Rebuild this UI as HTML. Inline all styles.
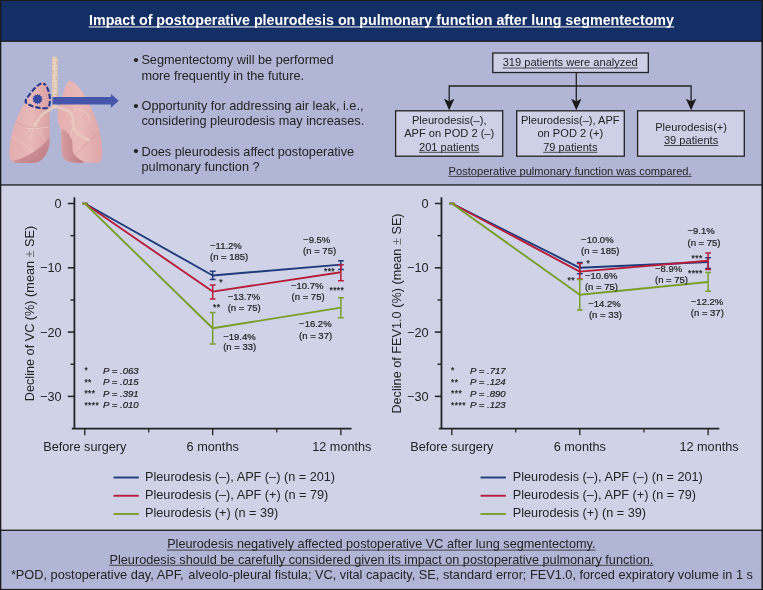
<!DOCTYPE html>
<html><head><meta charset="utf-8"><title>Impact of postoperative pleurodesis</title>
<style>
html,body{margin:0;padding:0;background:#1a1a1a}
svg{display:block}
.u{text-decoration:underline;text-decoration-skip-ink:none;text-decoration-thickness:0.9px;text-underline-offset:1.1px}
text{font-family:"Liberation Sans",Arial,Helvetica,sans-serif;fill:#242424}
</style></head><body>
<svg width="763" height="590" viewBox="0 0 763 590">
<rect width="763" height="590" fill="#1a1a1a"/>
<rect x="1.3" y="1" width="760.1" height="39.6" fill="#142e66"/>
<rect x="1.3" y="41.9" width="760.1" height="142.4" fill="#b1b5d6"/>
<rect x="1.3" y="185.6" width="760.1" height="344" fill="#d0d3e8"/>
<rect x="1.3" y="530.9" width="760.1" height="58" fill="#b1b5d6"/>
<text x="381.5" y="25.4" text-anchor="middle" font-size="14.28" font-weight="bold" style="fill:#fff">Impact of postoperative pleurodesis on pulmonary function after lung segmentectomy</text><path d="M88.72 26.95H674.28" stroke="#fff" stroke-width="1.0"/>
<g font-size="12.72">
<text x="133.15" y="64.75" font-size="15.5">•</text><text x="141.4" y="64.3">Segmentectomy will be performed</text>
<text x="141.4" y="79.8">more frequently in the future.</text>
<text x="133.15" y="110.55" font-size="15.5">•</text><text x="141.5" y="109.9">Opportunity for addressing air leak, i.e.,</text>
<text x="141.5" y="125">considering pleurodesis may increases.</text>
<text x="133.15" y="156.05" font-size="15.5">•</text><text x="141.5" y="155.5">Does pleurodesis affect postoperative</text>
<text x="141.5" y="170.8">pulmonary function ?</text>
</g>
<!-- lungs illustration -->
<defs>
<linearGradient id="lgL" x1="0" y1="0" x2="1" y2="0"><stop offset="0" stop-color="#e2adae"/><stop offset="0.55" stop-color="#e9b8b8"/><stop offset="1" stop-color="#d9a0a3"/></linearGradient>
<linearGradient id="lgR" x1="0" y1="0" x2="1" y2="0"><stop offset="0" stop-color="#e4aeaf"/><stop offset="0.5" stop-color="#eab9b9"/><stop offset="1" stop-color="#dea5a7"/></linearGradient>
<linearGradient id="lgT" x1="0" y1="0" x2="1" y2="0"><stop offset="0" stop-color="#d8bba5"/><stop offset="0.5" stop-color="#e6d0bd"/><stop offset="1" stop-color="#d0b19b"/></linearGradient>
<linearGradient id="shL" x1="0" y1="0" x2="1" y2="1"><stop offset="0" stop-color="#d69c9f"/><stop offset="1" stop-color="#b9777f"/></linearGradient>
<linearGradient id="shR" x1="0" y1="0" x2="1" y2="0"><stop offset="0" stop-color="#d49a9d"/><stop offset="1" stop-color="#b5737b"/></linearGradient>
<filter id="soft" x="-5%" y="-5%" width="110%" height="110%"><feGaussianBlur stdDeviation="0.45"/></filter>
</defs>
<g filter="url(#soft)">
<!-- trachea -->
<rect x="51.9" y="56.6" width="6" height="52" fill="url(#lgT)"/>
<path d="M52 60H58M52 63H58M52 66H58M52 69H58M52 72H58M52 75H58M52 78H58M52 81H58M52 84H58M52 87H58M52 90H58M52 93H58" stroke="#f4e8db" stroke-width="0.9" opacity="0.75"/>
<path d="M53.2 70.5v2.5M56.3 77v3M54 86.5v2.5M56.5 62v2M53.5 97v3M56 93v2" stroke="#c9a58d" stroke-width="1.1" opacity="0.6"/>
<!-- left lung -->
<path d="M43.1 81.8C39.5 83 35 88 30 94.5C25 101 19 112 15.3 122.5C12 132 9.8 142 9.4 150C9.2 155 9.6 159.5 11.5 161.5C13.5 163.3 19 163.2 24 163.1C29 163 33 163.3 36 162.6C40 161.6 43.5 158.5 46 154.5C48.5 150.5 49.6 145 49.7 139C50 132 50 122 49.6 114C49.6 108 50.6 100 50.2 95C49.8 89 47 83 43.1 81.8Z" fill="url(#lgL)"/>
<!-- right lung -->
<path d="M68.6 81.4C66 83 64.6 88 63.3 93C61.5 100 58.8 106 58 111C57.2 116 57.4 120.5 58.5 124C60.5 129 61.4 133 61.4 138C61.4 144 61 150 62.3 154.5C63.3 158.5 65 160.5 68 161.5C73 163 80 163.3 87 162.6C92 162.2 97 163.8 99.5 162.5C102 161 102.4 155 102.2 150C102 143 100.6 133 98 125C95.5 117 92 109 88 101C84 93 77 84.5 73 82C71.3 81 69.6 80.8 68.6 81.4Z" fill="url(#lgR)"/>
<!-- shading -->
<path d="M12.5 161.2C20 159.2 28 155.5 33.2 152.2C40 148 46 142.5 49.6 137.5C49.8 143 49 149 46 154.5C43.5 158.5 40 161.6 36 162.6C33 163.3 29 163 24 163.1C19 163.2 15 163 12.5 161.2Z" fill="url(#shL)" opacity="0.9"/>
<path d="M61.3 128.5C65 130.5 69 133 71 137.5C73 142 72 148 73 152C74 156 79 159 85 162.6C78 163.3 71 162.8 67 161C63 159 62 155 61.6 150C61.2 144 61.6 136 61.3 128.5Z" fill="url(#shR)" opacity="0.9"/>
<!-- bronchi -->
<g fill="none" stroke="#e8cdc1" stroke-linecap="round" opacity="0.85">
<path d="M55 105C54 108 49 110 44.5 112.7C41 115 37.5 120.5 34.5 126" stroke-width="2.8"/>
<path d="M55 105C57 107.5 61 108.6 67 110.4C71 111.8 72.3 114.5 72.7 118.5C73.1 123 73 127.5 75 130.5C77.5 134 84 138 89 140.3" stroke-width="2.8"/>
<path d="M72.3 113.5C74 110.5 77 109 80 109.5C85 110.5 88.5 115.5 90.3 120.5" stroke-width="1.3" opacity="0.8"/>
<path d="M73.5 126C72 130 70.5 134 70.5 138" stroke-width="1.2" opacity="0.7"/>
<path d="M34.5 126C31 129 27 132.5 23.7 135.6M34.5 126C33 130.5 31 135 29.7 139.1M35 125.5C37.5 129 39 132.5 40.3 135.6M36 124C40 128 42.5 134 43.9 139.1" stroke-width="0.9" opacity="0.75"/>
</g>
<!-- fissures -->
<g fill="none" stroke-width="0.8">
<path d="M14.8 121.9C20 123.5 26 127.5 32 127.8C38 128 44 126.5 49.4 124.2" stroke="#d29a9c" opacity="0.7"/>
<path d="M27 128.6C34 128.8 42 128 48.8 127" stroke="#f5dad6" opacity="0.6"/>
<path d="M11.3 135.5C18 140 26 146 33.2 152.2" stroke="#f3d3d0" opacity="0.55"/>
<path d="M99.8 130.8C96 135 92 139 89.1 141.5C85 145.5 80 150.5 75.5 154.6" stroke="#cf9497" opacity="0.75"/>
</g>
</g>
<!-- arrow -->
<path d="M52.5 97.1H110.9V94L118.7 100.8L110.9 107.8V104.6H52.5Z" fill="#4555a9"/>
<!-- dashed segment + tumour -->
<g transform="translate(0 1.1)"><path d="M43.2 82.3C47 83.5 50 92 49.9 99C49.9 103 49.5 106 47 106.8C42 108.2 31 105.5 26.5 102C24.5 100.5 26 98 28 95.5C32 90 39 81.5 43.2 82.3Z" fill="none" stroke="#27398a" stroke-width="2.1" stroke-dasharray="5.3 1.9" stroke-dashoffset="2" stroke-linecap="butt"/>
<path transform="translate(0 -1)" d="M37.5 93.6l1 1.6 1.7-.9 .1 1.9 1.9.1-.9 1.7 1.6 1-1.6 1 .9 1.700-1.900.1-.1 1.900-1.700-.9-1 1.600-1-1.600-1.700.9-.1-1.900-1.900-.1.900-1.700-1.600-1 1.600-1-.9-1.700 1.900-.1.100-1.900 1.700.9z" fill="#3749a0"/></g>

<!-- flow -->
<g fill="#cdd0e6" stroke="#222" stroke-width="1.3">
<rect x="492.8" y="53" width="155.5" height="19.5"/>
<rect x="395.6" y="110.8" width="107.1" height="45.4"/>
<rect x="516.7" y="110.8" width="107.6" height="45.4"/>
<rect x="637.6" y="110.8" width="106.7" height="45.4"/>
<path d="M576.3 72.5V101M449.2 101V86H691.1V101" fill="none"/>
</g>
<g fill="#1a1a1a">
<path d="M449.2 110.2l-5.2-11.5 5.2 2.6 5.2-2.6z"/><path d="M576.3 110.2l-5.2-11.5 5.2 2.6 5.2-2.6z"/><path d="M691.1 110.2l-5.2-11.5 5.2 2.6 5.2-2.6z"/>
</g>
<g font-size="11.1" text-anchor="middle">
<text x="570.2" y="66.3" text-anchor="middle" font-size="11.1" >319 patients were analyzed</text><path d="M502.63 68.00H637.77" stroke="#242424" stroke-width="0.8"/>
<text x="449.2" y="123.6">Pleurodesis(–),</text>
<text x="449.2" y="137.1">APF on POD 2 (–)</text>
<text x="449.2" y="150.6" text-anchor="middle" font-size="11.1" >201 patients</text><path d="M418.96 152.30H479.44" stroke="#242424" stroke-width="0.8"/>
<text x="570.3" y="123.6">Pleurodesis(–), APF</text>
<text x="570.3" y="137.1">on POD 2 (+)</text>
<text x="570.3" y="150.6" text-anchor="middle" font-size="11.1" >79 patients</text><path d="M543.15 152.30H597.45" stroke="#242424" stroke-width="0.8"/>
<text x="691.1" y="130.5">Pleurodesis(+)</text>
<text x="691.1" y="143.8" text-anchor="middle" font-size="11.1" >39 patients</text><path d="M663.95 145.50H718.25" stroke="#242424" stroke-width="0.8"/>
<text x="570.1" y="174.7" text-anchor="middle" font-size="11.1" >Postoperative pulmonary function was compared.</text><path d="M448.55 176.40H691.65" stroke="#242424" stroke-width="0.8"/>
</g>
<path d="M74.4 197.3V428.7" fill="none" stroke="#222" stroke-width="1.8"/>
<path d="M71.80000000000001 428.7H351.5" fill="none" stroke="#222" stroke-width="1.7"/>
<path d="M67.80000000000001 203.5H74.4" stroke="#222" stroke-width="1.5"/>
<text x="61.60000000000001" y="208.00" text-anchor="end" font-size="12.7">0</text>
<path d="M67.80000000000001 267.8H74.4" stroke="#222" stroke-width="1.5"/>
<text x="61.60000000000001" y="272.30" text-anchor="end" font-size="12.7">−10</text>
<path d="M67.80000000000001 332.1H74.4" stroke="#222" stroke-width="1.5"/>
<text x="61.60000000000001" y="336.60" text-anchor="end" font-size="12.7">−20</text>
<path d="M67.80000000000001 396.4H74.4" stroke="#222" stroke-width="1.5"/>
<text x="61.60000000000001" y="400.90" text-anchor="end" font-size="12.7">−30</text>
<path d="M70.5 235.65H74.4" stroke="#222" stroke-width="1.4"/>
<path d="M70.5 299.95H74.4" stroke="#222" stroke-width="1.4"/>
<path d="M70.5 364.25H74.4" stroke="#222" stroke-width="1.4"/>
<path d="M84.80 428.7V435.3" stroke="#222" stroke-width="1.3"/>
<path d="M212.70 428.7V435.3" stroke="#222" stroke-width="1.3"/>
<path d="M340.90 428.7V435.3" stroke="#222" stroke-width="1.3"/>
<path d="M148.75 428.7V432.59999999999997" stroke="#222" stroke-width="1.2"/>
<path d="M276.80 428.7V432.59999999999997" stroke="#222" stroke-width="1.2"/>
<text x="84.80" y="451" text-anchor="middle" font-size="12.7">Before surgery</text>
<text x="212.70" y="451" text-anchor="middle" font-size="12.7">6 months</text>
<text x="341.80" y="451" text-anchor="middle" font-size="12.7">12 months</text>
<text transform="translate(34.30 313.5) rotate(-90)" text-anchor="middle" font-size="12.7">Decline of VC (%) (mean <tspan style="fill:#6d6d75">±</tspan> SE)</text>
<path d="M84.80 203.5L212.70 275.52L340.90 264.58" fill="none" stroke="#1f3b7a" stroke-width="1.9" stroke-linejoin="round"/>
<path d="M82.00 203.5H87.60" stroke="#1f3b7a" stroke-width="1.5"/>
<path d="M209.80 271.3H215.60M212.70 271.3V279.5M209.80 279.5H215.60" fill="none" stroke="#1f3b7a" stroke-width="1.5"/>
<path d="M338.00 260.7H343.80M340.90 260.7V269.6M338.00 269.6H343.80" fill="none" stroke="#1f3b7a" stroke-width="1.5"/>
<path d="M84.80 203.5L212.70 291.59L340.90 272.30" fill="none" stroke="#b41e3a" stroke-width="1.9" stroke-linejoin="round"/>
<path d="M82.00 203.5H87.60" stroke="#b41e3a" stroke-width="1.5"/>
<path d="M209.80 285H215.60M212.70 285V299.1M209.80 299.1H215.60" fill="none" stroke="#b41e3a" stroke-width="1.5"/>
<path d="M338.00 264.7H343.80M340.90 264.7V280.7M338.00 280.7H343.80" fill="none" stroke="#b41e3a" stroke-width="1.5"/>
<path d="M84.80 203.5L212.70 328.24L340.90 307.67" fill="none" stroke="#7a9e2c" stroke-width="1.9" stroke-linejoin="round"/>
<path d="M82.00 203.5H87.60" stroke="#7a9e2c" stroke-width="1.5"/>
<path d="M209.80 312.6H215.60M212.70 312.6V343.9M209.80 343.9H215.60" fill="none" stroke="#7a9e2c" stroke-width="1.5"/>
<path d="M338.00 297.7H343.80M340.90 297.7V317.8M338.00 317.8H343.80" fill="none" stroke="#7a9e2c" stroke-width="1.5"/>
<g style="stroke:#242424;stroke-width:0.22">
<text x="210" y="248.9" text-anchor="start" font-size="9.5">−11.2%</text>
<text x="210" y="260" text-anchor="start" font-size="9.5">(n = 185)</text>
<text x="227.7" y="300.3" text-anchor="start" font-size="9.5">−13.7%</text>
<text x="227.7" y="311.4" text-anchor="start" font-size="9.5">(n = 75)</text>
<text x="223.2" y="339.7" text-anchor="start" font-size="9.5">−19.4%</text>
<text x="223.2" y="350.3" text-anchor="start" font-size="9.5">(n = 33)</text>
<text x="303.1" y="243" text-anchor="start" font-size="9.5">−9.5%</text>
<text x="303.1" y="254.1" text-anchor="start" font-size="9.5">(n = 75)</text>
<text x="290.9" y="288.5" text-anchor="start" font-size="9.5">−10.7%</text>
<text x="291.6" y="299.6" text-anchor="start" font-size="9.5">(n = 75)</text>
<text x="299.1" y="327.2" text-anchor="start" font-size="9.5">−16.2%</text>
<text x="299.1" y="338.5" text-anchor="start" font-size="9.5">(n = 37)</text>
<text x="219.3" y="285" text-anchor="start" font-size="8.6" letter-spacing="0.3">*</text>
<text x="213" y="309.5" text-anchor="start" font-size="8.6" letter-spacing="0.3">**</text>
<text x="324" y="274.2" text-anchor="start" font-size="8.6" letter-spacing="0.3">***</text>
<text x="329.5" y="293.3" text-anchor="start" font-size="8.6" letter-spacing="0.3">****</text>
<text x="84.4" y="374.3" font-size="8.4" dy="-0.9" letter-spacing="0.45" >*</text>
<text x="103" y="373.8" font-size="9.6" font-style="italic">P = .063</text>
<text x="84.4" y="385.8" font-size="8.4" dy="-0.9" letter-spacing="0.45" >**</text>
<text x="103" y="385.3" font-size="9.6" font-style="italic">P = .015</text>
<text x="84.4" y="397.3" font-size="8.4" dy="-0.9" letter-spacing="0.45" >***</text>
<text x="103" y="396.8" font-size="9.6" font-style="italic">P = .391</text>
<text x="84.4" y="408.8" font-size="8.4" dy="-0.9" letter-spacing="0.45" >****</text>
<text x="103" y="408.3" font-size="9.6" font-style="italic">P = .010</text>
</g>
<path d="M113.50 477.5H138.80" stroke="#1f3b7a" stroke-width="1.9"/>
<text x="145.00" y="480.60" font-size="12.7">Pleurodesis (–), APF (–) (n = 201)</text>
<path d="M113.50 495.75H138.80" stroke="#b41e3a" stroke-width="1.9"/>
<text x="145.00" y="498.70" font-size="12.7">Pleurodesis (–), APF (+) (n = 79)</text>
<path d="M113.50 514.0H138.80" stroke="#7a9e2c" stroke-width="1.9"/>
<text x="145.00" y="516.80" font-size="12.7">Pleurodesis (+) (n = 39)</text>
<path d="M441.45 197.3V428.7" fill="none" stroke="#222" stroke-width="1.8"/>
<path d="M438.84999999999997 428.7H719.3" fill="none" stroke="#222" stroke-width="1.7"/>
<path d="M434.84999999999997 203.5H441.45" stroke="#222" stroke-width="1.5"/>
<text x="428.65" y="208.00" text-anchor="end" font-size="12.7">0</text>
<path d="M434.84999999999997 267.8H441.45" stroke="#222" stroke-width="1.5"/>
<text x="428.65" y="272.30" text-anchor="end" font-size="12.7">−10</text>
<path d="M434.84999999999997 332.1H441.45" stroke="#222" stroke-width="1.5"/>
<text x="428.65" y="336.60" text-anchor="end" font-size="12.7">−20</text>
<path d="M434.84999999999997 396.4H441.45" stroke="#222" stroke-width="1.5"/>
<text x="428.65" y="400.90" text-anchor="end" font-size="12.7">−30</text>
<path d="M437.55 235.65H441.45" stroke="#222" stroke-width="1.4"/>
<path d="M437.55 299.95H441.45" stroke="#222" stroke-width="1.4"/>
<path d="M437.55 364.25H441.45" stroke="#222" stroke-width="1.4"/>
<path d="M451.85 428.7V435.3" stroke="#222" stroke-width="1.3"/>
<path d="M579.80 428.7V435.3" stroke="#222" stroke-width="1.3"/>
<path d="M708.10 428.7V435.3" stroke="#222" stroke-width="1.3"/>
<path d="M515.83 428.7V432.59999999999997" stroke="#222" stroke-width="1.2"/>
<path d="M643.95 428.7V432.59999999999997" stroke="#222" stroke-width="1.2"/>
<text x="451.85" y="451" text-anchor="middle" font-size="12.7">Before surgery</text>
<text x="579.80" y="451" text-anchor="middle" font-size="12.7">6 months</text>
<text x="709.00" y="451" text-anchor="middle" font-size="12.7">12 months</text>
<text transform="translate(401.35 313.5) rotate(-90)" text-anchor="middle" font-size="12.7">Decline of FEV1.0 (%) (mean <tspan style="fill:#6d6d75">±</tspan> SE)</text>
<path d="M451.85 203.5L579.80 267.80L708.10 262.01" fill="none" stroke="#1f3b7a" stroke-width="1.9" stroke-linejoin="round"/>
<path d="M449.05 203.5H454.65" stroke="#1f3b7a" stroke-width="1.5"/>
<path d="M576.90 262.5H582.70M579.80 262.5V273.8M576.90 273.8H582.70" fill="none" stroke="#1f3b7a" stroke-width="1.5"/>
<path d="M705.20 257.7H711.00M708.10 257.7V268.4M705.20 268.4H711.00" fill="none" stroke="#1f3b7a" stroke-width="1.5"/>
<path d="M451.85 203.5L579.80 271.66L708.10 260.73" fill="none" stroke="#b41e3a" stroke-width="1.9" stroke-linejoin="round"/>
<path d="M449.05 203.5H454.65" stroke="#b41e3a" stroke-width="1.5"/>
<path d="M576.90 263.6H582.70M579.80 263.6V279M576.90 279H582.70" fill="none" stroke="#b41e3a" stroke-width="1.5"/>
<path d="M705.20 253H711.00M708.10 253V269.5M705.20 269.5H711.00" fill="none" stroke="#b41e3a" stroke-width="1.5"/>
<path d="M451.85 203.5L579.80 294.81L708.10 281.95" fill="none" stroke="#7a9e2c" stroke-width="1.9" stroke-linejoin="round"/>
<path d="M449.05 203.5H454.65" stroke="#7a9e2c" stroke-width="1.5"/>
<path d="M576.90 279.4H582.70M579.80 279.4V310.1M576.90 310.1H582.70" fill="none" stroke="#7a9e2c" stroke-width="1.5"/>
<path d="M705.20 272.4H711.00M708.10 272.4V291.2M705.20 291.2H711.00" fill="none" stroke="#7a9e2c" stroke-width="1.5"/>
<g style="stroke:#242424;stroke-width:0.22">
<text x="581.1" y="242.9" text-anchor="start" font-size="9.5">−10.0%</text>
<text x="581.1" y="254.2" text-anchor="start" font-size="9.5">(n = 185)</text>
<text x="584.9" y="278.5" text-anchor="start" font-size="9.5">−10.6%</text>
<text x="584.9" y="289.6" text-anchor="start" font-size="9.5">(n = 75)</text>
<text x="588.2" y="306.6" text-anchor="start" font-size="9.5">−14.2%</text>
<text x="588.9" y="317.9" text-anchor="start" font-size="9.5">(n = 33)</text>
<text x="687.5" y="234.2" text-anchor="start" font-size="9.5">−9.1%</text>
<text x="687.5" y="246" text-anchor="start" font-size="9.5">(n = 75)</text>
<text x="655" y="271.9" text-anchor="start" font-size="9.5">−8.9%</text>
<text x="655" y="283.2" text-anchor="start" font-size="9.5">(n = 75)</text>
<text x="690.8" y="304.9" text-anchor="start" font-size="9.5">−12.2%</text>
<text x="690.8" y="316" text-anchor="start" font-size="9.5">(n = 37)</text>
<text x="586.5" y="265.7" text-anchor="start" font-size="8.6" letter-spacing="0.3">*</text>
<text x="567.6" y="282.8" text-anchor="start" font-size="8.6" letter-spacing="0.3">**</text>
<text x="691.6" y="261.2" text-anchor="start" font-size="8.6" letter-spacing="0.3">***</text>
<text x="688" y="275.7" text-anchor="start" font-size="8.6" letter-spacing="0.3">****</text>
<text x="451" y="374.3" font-size="8.4" dy="-0.9" letter-spacing="0.45" >*</text>
<text x="470" y="373.8" font-size="9.6" font-style="italic">P = .717</text>
<text x="451" y="385.8" font-size="8.4" dy="-0.9" letter-spacing="0.45" >**</text>
<text x="470" y="385.3" font-size="9.6" font-style="italic">P = .124</text>
<text x="451" y="397.3" font-size="8.4" dy="-0.9" letter-spacing="0.45" >***</text>
<text x="470" y="396.8" font-size="9.6" font-style="italic">P = .890</text>
<text x="451" y="408.8" font-size="8.4" dy="-0.9" letter-spacing="0.45" >****</text>
<text x="470" y="408.3" font-size="9.6" font-style="italic">P = .123</text>
</g>
<path d="M480.55 477.5H505.85" stroke="#1f3b7a" stroke-width="1.9"/>
<text x="512.75" y="480.60" font-size="12.7">Pleurodesis (–), APF (–) (n = 201)</text>
<path d="M480.55 495.75H505.85" stroke="#b41e3a" stroke-width="1.9"/>
<text x="512.75" y="498.70" font-size="12.7">Pleurodesis (–), APF (+) (n = 79)</text>
<path d="M480.55 514.0H505.85" stroke="#7a9e2c" stroke-width="1.9"/>
<text x="512.75" y="516.80" font-size="12.7">Pleurodesis (+) (n = 39)</text>
<g font-size="12.7">
<text x="381.3" y="548.4" text-anchor="middle" font-size="12.7" >Pleurodesis negatively affected postoperative VC after lung segmentectomy.</text><path d="M166.93 550.10H595.67" stroke="#242424" stroke-width="0.8"/>
<text x="381.4" y="563.6" text-anchor="middle" font-size="12.7" >Pleurodesis should be carefully considered given its impact on postoperative pulmonary function.</text><path d="M109.25 565.30H653.55" stroke="#242424" stroke-width="0.8"/>
<text x="10.9" y="579.2" font-size="12.767">*POD, postoperative day, APF, <tspan dx="1.2" font-size="12.74">alveolo-pleural fistula; VC, vital capacity, SE, standard error; FEV1.0, forced expiratory volume in 1 s</tspan></text>
</g>
</svg>
</body></html>
